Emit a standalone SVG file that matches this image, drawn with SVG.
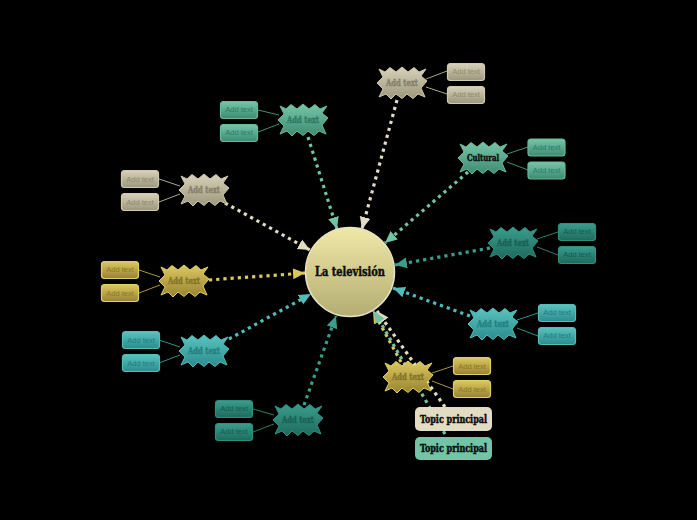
<svg xmlns="http://www.w3.org/2000/svg" width="697" height="520" viewBox="0 0 697 520">
<style>
.star{stroke-width:1}
.box{stroke-width:1.2}
.l{fill:none;stroke-width:3.2;stroke-dasharray:3.2 4}
.k{fill:none;stroke-width:1}
.t,.mt{font-family:"DejaVu Serif Condensed","DejaVu Serif",serif;font-weight:bold;text-anchor:middle;paint-order:stroke}
.t{font-size:10px;stroke-width:.4}
.mt{fill:#0c0c0c;stroke:#0c0c0c;stroke-width:.45}
.s{font-family:"Liberation Sans",Arial,sans-serif;font-size:7.5px;text-anchor:middle}
.beige .star,.beige .box{fill:url(#gb);stroke:#cfc9ad}.beige .t{fill:#85806a;stroke:#85806a}.beige .s{fill:#8f8a72}
.green .star,.green .box{fill:url(#gg);stroke:#68b89b}.green .t{fill:#2f7a63;stroke:#2f7a63}.green .s{fill:#2a7d66}
.dteal .star,.dteal .box{fill:url(#gd);stroke:#2f8f7e}.dteal .t{fill:#1a6155;stroke:#1a6155}.dteal .s{fill:#175a4f}
.teal .star,.teal .box{fill:url(#gt);stroke:#52bdb9}.teal .t{fill:#23807e;stroke:#23807e}.teal .s{fill:#1f7c7c}
.gold .star,.gold .box{fill:url(#gy);stroke:#e2cf63}.gold .t{fill:#85732a;stroke:#85732a}.gold .s{fill:#8a7829}
.green .t.c{fill:#0c0c0c;stroke:#0c0c0c}
.lb{stroke:#e2dcc2}.lg{stroke:#72c4a6}.ld{stroke:#3a9e8d}.lt{stroke:#4fbdb9}.ly{stroke:#dcc85a}
.kb{stroke:#aaa58c}.kg{stroke:#3f8f78}.kd{stroke:#2a7c6e}.kt{stroke:#2f8f8f}.ky{stroke:#a8943c}
</style>
<defs>
<linearGradient id="gb" x1="0" y1="0" x2="0" y2="1"><stop offset="0" stop-color="#d8d2b8"/><stop offset="1" stop-color="#9c967c"/></linearGradient>
<linearGradient id="gg" x1="0" y1="0" x2="0" y2="1"><stop offset="0" stop-color="#78c6a9"/><stop offset="1" stop-color="#3c8a72"/></linearGradient>
<linearGradient id="gd" x1="0" y1="0" x2="0" y2="1"><stop offset="0" stop-color="#3a9e8c"/><stop offset="1" stop-color="#1e6a5e"/></linearGradient>
<linearGradient id="gt" x1="0" y1="0" x2="0" y2="1"><stop offset="0" stop-color="#5ac4bf"/><stop offset="1" stop-color="#2b8c8d"/></linearGradient>
<linearGradient id="gy" x1="0" y1="0" x2="0" y2="1"><stop offset="0" stop-color="#dcc95f"/><stop offset="1" stop-color="#978330"/></linearGradient>
<linearGradient id="gc" x1="0" y1="0" x2="0" y2="1"><stop offset="0" stop-color="#f0e8a6"/><stop offset="1" stop-color="#b3ad72"/></linearGradient>
<path id="st" d="M-25,0L-19,-6L-23,-14L-17,-11L-12,-15.500L-6,-11L0,-16L6,-11L12,-15.500L17,-11L24,-14L19,-7L25,-2L19,5L23,14L16,11L11,15.500L5,11L0,15.500L-6,11L-11,16L-16,11L-23,14L-19,6Z"/>
<marker id="mb" markerUnits="userSpaceOnUse" markerWidth="14" markerHeight="14" refX="12" refY="6.500" orient="auto"><path d="M0,1L12,6.500L0,12Z" fill="#e2dcc2"/></marker>
<marker id="mg" markerUnits="userSpaceOnUse" markerWidth="14" markerHeight="14" refX="12" refY="6.500" orient="auto"><path d="M0,1L12,6.500L0,12Z" fill="#72c4a6"/></marker>
<marker id="md" markerUnits="userSpaceOnUse" markerWidth="14" markerHeight="14" refX="12" refY="6.500" orient="auto"><path d="M0,1L12,6.500L0,12Z" fill="#3a9e8d"/></marker>
<marker id="mt" markerUnits="userSpaceOnUse" markerWidth="14" markerHeight="14" refX="12" refY="6.500" orient="auto"><path d="M0,1L12,6.500L0,12Z" fill="#4fbdb9"/></marker>
<marker id="my" markerUnits="userSpaceOnUse" markerWidth="14" markerHeight="14" refX="12" refY="6.500" orient="auto"><path d="M0,1L12,6.500L0,12Z" fill="#dcc85a"/></marker>
</defs>
<rect width="697" height="520" fill="#000"/>
<g id="connectors">
<path class="l ly" marker-end="url(#my)" d="M401,362L373,311"/>
<path class="l lb" marker-end="url(#mb)" d="M445,407L377,311"/>
<path class="l lg" marker-end="url(#mg)" d="M445,434L374,311"/>
<path class="l lb" marker-end="url(#mb)" d="M397,100L362,229"/>
<path class="l lg" marker-end="url(#mg)" d="M308,137L337,229"/>
<path class="l lg" marker-end="url(#mg)" d="M468,172L385,243"/>
<path class="l ld" marker-end="url(#md)" d="M490,248L395,265"/>
<path class="l lt" marker-end="url(#mt)" d="M470,316L393,288"/>
<path class="l ld" marker-end="url(#md)" d="M304,405L336,316"/>
<path class="l lt" marker-end="url(#mt)" d="M229,339L311,294"/>
<path class="l ly" marker-end="url(#my)" d="M209,280L305,273"/>
<path class="l lb" marker-end="url(#mb)" d="M225,203L310,250"/>
<path class="k kb" d="M426,79L447,71M426,87L447,94"/>
<path class="k kg" d="M279,115L258,110M279,124L258,132"/>
<path class="k kg" d="M507,154L528,147M507,162L528,170"/>
<path class="k kd" d="M537,239L558,232M537,247L558,255"/>
<path class="k kt" d="M517,320L538,313M517,328L538,336"/>
<path class="k ky" d="M432,373L453,366M432,381L453,389"/>
<path class="k kd" d="M274,415L253,409M274,424L253,432"/>
<path class="k kt" d="M180,347L159,340M180,355L159,363"/>
<path class="k ky" d="M160,277L139,270M160,285L139,293"/>
<path class="k kb" d="M180,186L159,179M180,194L159,202"/>
</g>
<g id="center"><circle cx="350" cy="272" r="44.500" fill="url(#gc)" stroke="#e6e2c6" stroke-width="1.500"/><text class="mt" x="350" y="276" font-size="13" textLength="70" lengthAdjust="spacingAndGlyphs">La televisión</text></g>

<g id="n1" class="beige"><use class="star" href="#st" transform="translate(402,83)"/><text class="t" x="402" y="86" textLength="32" lengthAdjust="spacingAndGlyphs">Add text</text></g>
<g id="n1a" class="beige"><rect class="box" x="447.500" y="63.500" width="37" height="17" rx="3"/><text class="s" x="466" y="74">Add text</text></g>
<g id="n1b" class="beige"><rect class="box" x="447.500" y="86.500" width="37" height="17" rx="3"/><text class="s" x="466" y="97">Add text</text></g>

<g id="n2" class="green"><use class="star" href="#st" transform="translate(303,120)"/><text class="t" x="303" y="123" textLength="32" lengthAdjust="spacingAndGlyphs">Add text</text></g>
<g id="n2a" class="green"><rect class="box" x="220.500" y="101.500" width="37" height="17" rx="3"/><text class="s" x="239" y="112">Add text</text></g>
<g id="n2b" class="green"><rect class="box" x="220.500" y="124.500" width="37" height="17" rx="3"/><text class="s" x="239" y="135">Add text</text></g>

<g id="n3" class="green"><use class="star" href="#st" transform="translate(483,158)"/><text class="t c" x="483" y="161" textLength="32" lengthAdjust="spacingAndGlyphs">Cultural</text></g>
<g id="n3a" class="green"><rect class="box" x="528" y="139" width="37" height="17" rx="3"/><text class="s" x="546.500" y="150">Add text</text></g>
<g id="n3b" class="green"><rect class="box" x="528" y="162" width="37" height="17" rx="3"/><text class="s" x="546.500" y="173">Add text</text></g>

<g id="n4" class="dteal"><use class="star" href="#st" transform="translate(513,243)"/><text class="t" x="513" y="246" textLength="32" lengthAdjust="spacingAndGlyphs">Add text</text></g>
<g id="n4a" class="dteal"><rect class="box" x="558.500" y="223.500" width="37" height="17" rx="3"/><text class="s" x="577" y="234">Add text</text></g>
<g id="n4b" class="dteal"><rect class="box" x="558.500" y="246.500" width="37" height="17" rx="3"/><text class="s" x="577" y="257">Add text</text></g>

<g id="n5" class="teal"><use class="star" href="#st" transform="translate(493,324)"/><text class="t" x="493" y="327" textLength="32" lengthAdjust="spacingAndGlyphs">Add text</text></g>
<g id="n5a" class="teal"><rect class="box" x="538.500" y="304.500" width="37" height="17" rx="3"/><text class="s" x="557" y="315">Add text</text></g>
<g id="n5b" class="teal"><rect class="box" x="538.500" y="327.500" width="37" height="17" rx="3"/><text class="s" x="557" y="338">Add text</text></g>

<g id="n6" class="gold"><use class="star" href="#st" transform="translate(408,377)"/><text class="t" x="408" y="380" textLength="32" lengthAdjust="spacingAndGlyphs">Add text</text></g>
<g id="n6a" class="gold"><rect class="box" x="453.500" y="357.500" width="37" height="17" rx="3"/><text class="s" x="472" y="369">Add text</text></g>
<g id="n6b" class="gold"><rect class="box" x="453.500" y="380.500" width="37" height="17" rx="3"/><text class="s" x="472" y="392">Add text</text></g>

<g id="n7" class="dteal"><use class="star" href="#st" transform="translate(298,420)"/><text class="t" x="298" y="423" textLength="32" lengthAdjust="spacingAndGlyphs">Add text</text></g>
<g id="n7a" class="dteal"><rect class="box" x="215.500" y="400.500" width="37" height="17" rx="3"/><text class="s" x="234" y="411">Add text</text></g>
<g id="n7b" class="dteal"><rect class="box" x="215.500" y="423.500" width="37" height="17" rx="3"/><text class="s" x="234" y="434">Add text</text></g>

<g id="n8" class="teal"><use class="star" href="#st" transform="translate(204,351)"/><text class="t" x="204" y="354" textLength="32" lengthAdjust="spacingAndGlyphs">Add text</text></g>
<g id="n8a" class="teal"><rect class="box" x="122.500" y="331.500" width="37" height="17" rx="3"/><text class="s" x="141" y="343">Add text</text></g>
<g id="n8b" class="teal"><rect class="box" x="122.500" y="354.500" width="37" height="17" rx="3"/><text class="s" x="141" y="366">Add text</text></g>

<g id="n9" class="gold"><use class="star" href="#st" transform="translate(184,281)"/><text class="t" x="184" y="284" textLength="32" lengthAdjust="spacingAndGlyphs">Add text</text></g>
<g id="n9a" class="gold"><rect class="box" x="101.500" y="261.500" width="37" height="17" rx="3"/><text class="s" x="120" y="272">Add text</text></g>
<g id="n9b" class="gold"><rect class="box" x="101.500" y="284.500" width="37" height="17" rx="3"/><text class="s" x="120" y="296">Add text</text></g>

<g id="n10" class="beige"><use class="star" href="#st" transform="translate(204,190)"/><text class="t" x="204" y="193" textLength="32" lengthAdjust="spacingAndGlyphs">Add text</text></g>
<g id="n10a" class="beige"><rect class="box" x="121.500" y="170.500" width="37" height="17" rx="3"/><text class="s" x="140" y="182">Add text</text></g>
<g id="n10b" class="beige"><rect class="box" x="121.500" y="193.500" width="37" height="17" rx="3"/><text class="s" x="140" y="205">Add text</text></g>

<g id="topic1"><rect x="415" y="407" width="77" height="24" rx="5" fill="#e2dcc2"/><text class="mt" x="453.500" y="423" font-size="11" textLength="67" lengthAdjust="spacingAndGlyphs">Topic principal</text></g>
<g id="topic2"><rect x="415" y="437" width="77" height="23" rx="5" fill="#72c4a6"/><text class="mt" x="453.500" y="452" font-size="11" textLength="67" lengthAdjust="spacingAndGlyphs">Topic principal</text></g>
</svg>
